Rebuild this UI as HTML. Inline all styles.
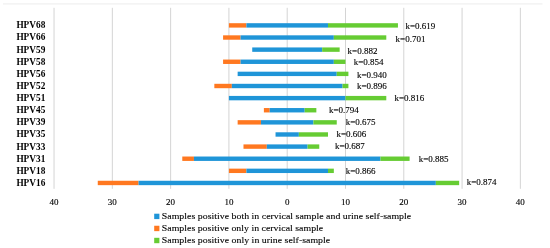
<!DOCTYPE html>
<html><head><meta charset="utf-8"><title>HPV chart</title>
<style>
html,body{margin:0;padding:0;background:#fff;}
body{width:550px;height:248px;overflow:hidden;}
svg{display:block;}
text{font-family:"Liberation Serif",serif;fill:#000;}
.cat{font-weight:bold;font-size:9.3px;}
.k{font-size:9px;stroke:#000;stroke-width:0.12px;}
.ax{font-size:9px;text-anchor:middle;stroke:#000;stroke-width:0.12px;}
.lg{font-size:8.9px;stroke:#000;stroke-width:0.1px;}
</style></head><body>
<svg width="550" height="248" viewBox="0 0 550 248">
<rect width="550" height="248" fill="#fff"/>
<rect x="3" y="3.3" width="539.5" height="1.2" fill="#efefef"/>

<rect x="53.54" y="7.8" width="1" height="181" fill="#d4d4d4"/>
<rect x="111.83" y="7.8" width="1" height="181" fill="#d4d4d4"/>
<rect x="170.12" y="7.8" width="1" height="181" fill="#d4d4d4"/>
<rect x="228.41" y="7.8" width="1" height="181" fill="#d4d4d4"/>
<rect x="286.70" y="7.8" width="1" height="181" fill="#d4d4d4"/>
<rect x="344.99" y="7.8" width="1" height="181" fill="#d4d4d4"/>
<rect x="403.28" y="7.8" width="1" height="181" fill="#d4d4d4"/>
<rect x="461.57" y="7.8" width="1" height="181" fill="#d4d4d4"/>
<rect x="519.86" y="7.8" width="1" height="181" fill="#d4d4d4"/>
<rect x="228.91" y="23.20" width="17.49" height="4.4" fill="#ff7820"/>
<rect x="246.40" y="23.20" width="81.61" height="4.4" fill="#1f95d8"/>
<rect x="328.00" y="23.20" width="69.95" height="4.4" fill="#66cc33"/>
<text class="cat" x="16.4" y="28.30">HPV68</text>
<text class="k" x="405.40" y="29.2">k=0.619</text>
<rect x="223.08" y="35.32" width="17.49" height="4.4" fill="#ff7820"/>
<rect x="240.57" y="35.32" width="93.26" height="4.4" fill="#1f95d8"/>
<rect x="333.83" y="35.32" width="52.46" height="4.4" fill="#66cc33"/>
<text class="cat" x="16.4" y="40.42">HPV66</text>
<text class="k" x="395.60" y="41.8">k=0.701</text>
<rect x="252.23" y="47.44" width="69.95" height="4.4" fill="#1f95d8"/>
<rect x="322.17" y="47.44" width="17.49" height="4.4" fill="#66cc33"/>
<text class="cat" x="16.4" y="52.54">HPV59</text>
<text class="k" x="347.60" y="53.7">k=0.882</text>
<rect x="223.08" y="59.56" width="17.49" height="4.4" fill="#ff7820"/>
<rect x="240.57" y="59.56" width="93.26" height="4.4" fill="#1f95d8"/>
<rect x="333.83" y="59.56" width="11.66" height="4.4" fill="#66cc33"/>
<text class="cat" x="16.4" y="64.66">HPV58</text>
<text class="k" x="353.70" y="64.7">k=0.854</text>
<rect x="237.65" y="71.68" width="99.09" height="4.4" fill="#1f95d8"/>
<rect x="336.75" y="71.68" width="11.66" height="4.4" fill="#66cc33"/>
<text class="cat" x="16.4" y="76.78">HPV56</text>
<text class="k" x="357.00" y="77.5">k=0.940</text>
<rect x="214.34" y="83.80" width="17.49" height="4.4" fill="#ff7820"/>
<rect x="231.82" y="83.80" width="110.75" height="4.4" fill="#1f95d8"/>
<rect x="342.58" y="83.80" width="5.83" height="4.4" fill="#66cc33"/>
<text class="cat" x="16.4" y="88.90">HPV52</text>
<text class="k" x="356.90" y="89.4">k=0.896</text>
<rect x="228.91" y="95.92" width="116.58" height="4.4" fill="#1f95d8"/>
<rect x="345.49" y="95.92" width="40.80" height="4.4" fill="#66cc33"/>
<text class="cat" x="16.4" y="101.02">HPV51</text>
<text class="k" x="394.50" y="100.6">k=0.816</text>
<rect x="263.88" y="108.04" width="5.83" height="4.4" fill="#ff7820"/>
<rect x="269.71" y="108.04" width="34.97" height="4.4" fill="#1f95d8"/>
<rect x="304.69" y="108.04" width="11.66" height="4.4" fill="#66cc33"/>
<text class="cat" x="16.4" y="113.14">HPV45</text>
<text class="k" x="328.90" y="113.0">k=0.794</text>
<rect x="237.65" y="120.16" width="23.32" height="4.4" fill="#ff7820"/>
<rect x="260.97" y="120.16" width="52.46" height="4.4" fill="#1f95d8"/>
<rect x="313.43" y="120.16" width="23.32" height="4.4" fill="#66cc33"/>
<text class="cat" x="16.4" y="125.26">HPV39</text>
<text class="k" x="345.80" y="124.6">k=0.675</text>
<rect x="275.54" y="132.28" width="23.32" height="4.4" fill="#1f95d8"/>
<rect x="298.86" y="132.28" width="29.14" height="4.4" fill="#66cc33"/>
<text class="cat" x="16.4" y="137.38">HPV35</text>
<text class="k" x="336.50" y="137.4">k=0.606</text>
<rect x="243.48" y="144.40" width="23.32" height="4.4" fill="#ff7820"/>
<rect x="266.80" y="144.40" width="40.80" height="4.4" fill="#1f95d8"/>
<rect x="307.60" y="144.40" width="11.66" height="4.4" fill="#66cc33"/>
<text class="cat" x="16.4" y="149.50">HPV33</text>
<text class="k" x="335.00" y="148.8">k=0.687</text>
<rect x="182.28" y="156.52" width="11.66" height="4.4" fill="#ff7820"/>
<rect x="193.94" y="156.52" width="186.53" height="4.4" fill="#1f95d8"/>
<rect x="380.46" y="156.52" width="29.14" height="4.4" fill="#66cc33"/>
<text class="cat" x="16.4" y="161.62">HPV31</text>
<text class="k" x="418.70" y="161.7">k=0.885</text>
<rect x="228.91" y="168.64" width="17.49" height="4.4" fill="#ff7820"/>
<rect x="246.40" y="168.64" width="81.61" height="4.4" fill="#1f95d8"/>
<rect x="328.00" y="168.64" width="5.83" height="4.4" fill="#66cc33"/>
<text class="cat" x="16.4" y="173.74">HPV18</text>
<text class="k" x="345.80" y="173.9">k=0.866</text>
<rect x="97.76" y="180.76" width="40.80" height="4.4" fill="#ff7820"/>
<rect x="138.56" y="180.76" width="297.28" height="4.4" fill="#1f95d8"/>
<rect x="435.84" y="180.76" width="23.32" height="4.4" fill="#66cc33"/>
<text class="cat" x="16.4" y="185.86">HPV16</text>
<text class="k" x="466.70" y="185.1">k=0.874</text>
<text class="ax" x="54.04" y="204.8">40</text>
<text class="ax" x="112.33" y="204.8">30</text>
<text class="ax" x="170.62" y="204.8">20</text>
<text class="ax" x="228.91" y="204.8">10</text>
<text class="ax" x="287.20" y="204.8">0</text>
<text class="ax" x="345.49" y="204.8">10</text>
<text class="ax" x="403.78" y="204.8">20</text>
<text class="ax" x="462.07" y="204.8">30</text>
<text class="ax" x="520.36" y="204.8">40</text>
<rect x="154.2" y="213.70" width="5.2" height="5.4" fill="#1f95d8"/>
<text class="lg" transform="translate(161.8 218.70) scale(1.107 1)" textLength="225.29" lengthAdjust="spacing">Samples positive both in cervical sample and urine self-sample</text>
<rect x="154.2" y="225.75" width="5.2" height="5.4" fill="#ff7820"/>
<text class="lg" transform="translate(161.8 230.75) scale(1.107 1)" textLength="145.80" lengthAdjust="spacing">Samples positive only in cervical sample</text>
<rect x="154.2" y="237.80" width="5.2" height="5.4" fill="#66cc33"/>
<text class="lg" transform="translate(161.8 242.80) scale(1.107 1)" textLength="152.12" lengthAdjust="spacing">Samples positive only in urine self-sample</text>
</svg></body></html>
